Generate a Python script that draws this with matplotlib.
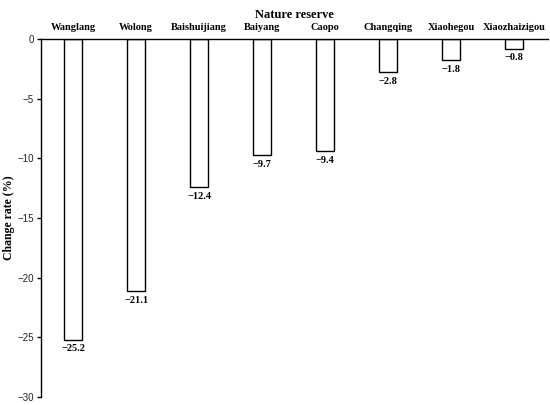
import numpy as np
import matplotlib.pyplot as plt

reserves = ["Wanglang", "Wolong", "Baishuijiang", "Baiyang", "Caopo",
            "Changqing", "Xiaohegou", "Xiaozhaizigou"]
change_rate = [-25.2, -21.1, -12.4, -9.7, -9.4, -2.8, -1.8, -0.8]
yticks = [0, -5, -10, -15, -20, -25, -30]

serif = "Liberation Serif"
sans = "Liberation Sans"

fig = plt.figure(figsize=(5.5, 4.05), dpi=100)
ax = fig.add_axes([41 / 550, 8 / 405, 507 / 550, 358 / 405])

x = np.arange(len(reserves))
ax.bar(x, change_rate, width=0.29, color="white", edgecolor="black", linewidth=1.0)

for xi, v in zip(x, change_rate):
    ax.text(xi, v - 0.4, "\u2212%.1f" % abs(v), ha="center", va="top",
            fontsize=7.5, fontweight="bold", family=serif)

ax.set_xlim(-0.51, 7.54)
ax.set_ylim(-30, 0)
ax.set_yticks(yticks)
ax.set_yticklabels(["0" if t == 0 else "\u2212%d" % abs(t) for t in yticks],
                   family=sans, fontsize=7, color="#222222")

ax.xaxis.tick_top()
ax.xaxis.set_label_position("top")
ax.set_xticks(x)
ax.set_xticklabels(reserves, family=serif, fontweight="bold", fontsize=7.5)
ax.tick_params(axis="x", length=0, pad=5)
ax.tick_params(axis="y", length=3, width=1, pad=2)
ax.set_xlabel("Nature reserve", family=serif, fontweight="bold", fontsize=9, labelpad=4)
ax.set_ylabel("Change rate (%)", family=serif, fontweight="bold", fontsize=8.5)
ax.yaxis.set_label_coords(-26 / 507, 0.5)

ax.spines["right"].set_visible(False)
ax.spines["bottom"].set_visible(False)
ax.spines["top"].set_linewidth(1.0)
ax.spines["left"].set_linewidth(1.0)

fig.savefig("out.png", dpi=100)
